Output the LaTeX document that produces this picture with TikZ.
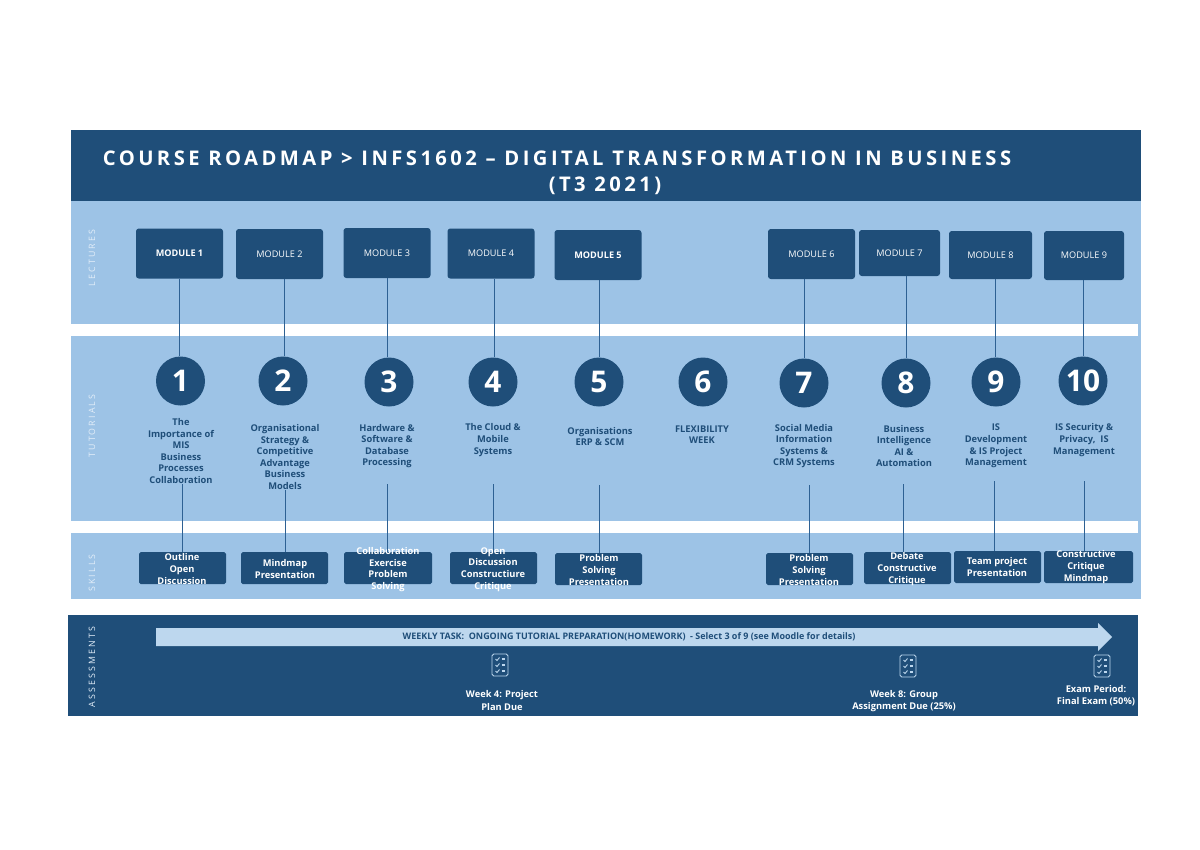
\documentclass[tikz,border=0pt]{standalone}
\usepackage{fontspec}
\setmainfont{Open Sans}
\newfontfamily\spacedfont[LetterSpace=17]{Open Sans}
\newfontfamily\sidefont[LetterSpace=25]{Open Sans}
\definecolor{darkblue}{HTML}{1F4E79}
\definecolor{midblue}{HTML}{9DC3E6}
\definecolor{paleblue}{HTML}{BDD7EE}
\definecolor{sideblue}{HTML}{E3EEF9}
\definecolor{linkblue}{HTML}{2E6193}
\tikzset{
  modulebox/.style={rectangle, rounded corners=1.6pt, fill=darkblue, text=white, inner sep=0pt, minimum width=87*0.02cm, minimum height=50*0.02cm, font=\fontsize{5.2}{6}\selectfont},
  skillbox/.style={rectangle, rounded corners=1pt, fill=darkblue, inner sep=0pt, minimum width=87*0.02cm, minimum height=32*0.02cm},
  weekcircle/.style={circle, fill=darkblue, text=white, inner sep=0pt, minimum size=49*0.02cm, font=\fontsize{17}{17}\selectfont\bfseries},
  topictext/.style={text=darkblue, align=center, inner sep=0pt, font=\fontsize{5.3}{6.6}\selectfont\bfseries},
  skilltext/.style={text=white, align=center, inner sep=0pt, font=\fontsize{5.3}{6.6}\selectfont\bfseries},
  sidetext/.style={text=sideblue, rotate=90, inner sep=0pt, font=\fontsize{5}{6}\sidefont},
  titletext/.style={text=white, inner sep=0pt, font=\fontsize{11.5}{13}\spacedfont\bfseries},
  link/.style={draw=linkblue, line width=0.55pt},
  checkicon/.pic={
    \draw[paleblue, line width=0.5pt, rounded corners=1pt] (-8,-11) rectangle (8,11);
    \draw[paleblue, line width=0.5pt] (-4.5,-6) -- (-3,-4.5) -- (-0.5,-7.5) (-4.5,0) -- (-3,1.5) -- (-0.5,-1.5) (-4.5,6) -- (-3,7.5) -- (-0.5,4.5);
    \draw[paleblue, line width=0.6pt] (1.5,-6) -- (5,-6) (1.5,0) -- (5,0) (1.5,6) -- (5,6);
  }
}
\begin{document}
\begin{tikzpicture}[x=0.02cm, y=-0.02cm]
   \useasboundingbox (0,0) rectangle (1200,849);
   % bands
   \fill[midblue] (71,201) rectangle (1141,599);
   \fill[darkblue] (71,130) rectangle (1141,201);
   \fill[white] (71,324) rectangle (1138,336);
   \fill[white] (71,521) rectangle (1138,533);
   \fill[darkblue] (68,615) rectangle (1138,716);
   \node[titletext] (title1) at (557,158) {COURSE ROADMAP > INFS1602 – DIGITAL TRANSFORMATION IN BUSINESS};
   \node[titletext] (title2) at (605,186) {(T3 2021)};
   \node[sidetext] (lectures) at (92,258) {LECTURES};
   \node[sidetext] (tutorials) at (92,426) {TUTORIALS};
   \node[sidetext] (skills) at (92,573) {SKILLS};
   \node[sidetext] (assess) at (92,667) {ASSESSMENTS};
   % modules
   \node[modulebox, font=\fontsize{5.2}{6}\selectfont\bfseries] (m1) at (179.5,253.5) {MODULE 1};
   \node[modulebox] (m2) at (279.5,254) {MODULE 2};
   \node[modulebox] (m3) at (387,253) {MODULE 3};
   \node[modulebox] (m4) at (491,253.5) {MODULE 4};
   \node[modulebox, font=\fontsize{5.2}{6}\selectfont\bfseries] (m5) at (598,255) {MODULE 5};
   \node[modulebox] (m6) at (811.5,254) {MODULE 6};
   \node[modulebox, minimum width=81*0.02cm, minimum height=46*0.02cm] (m7) at (899.5,253) {MODULE 7};
   \node[modulebox, minimum width=83*0.02cm, minimum height=48*0.02cm] (m8) at (990.5,255) {MODULE 8};
   \node[modulebox, minimum width=80*0.02cm, minimum height=49*0.02cm] (m9) at (1084,255.5) {MODULE 9};
   % weeks
   \node[weekcircle] (c1) at (180.5,381) {1};
   \node[weekcircle] (c2) at (283,381) {2};
   \node[weekcircle] (c3) at (389,382) {3};
   \node[weekcircle] (c4) at (493,382) {4};
   \node[weekcircle] (c5) at (599,382) {5};
   \node[weekcircle] (c6) at (703,382) {6};
   \node[weekcircle] (c7) at (804,383) {7};
   \node[weekcircle] (c8) at (906,383) {8};
   \node[weekcircle] (c9) at (996,382) {9};
   \node[weekcircle] (c10) at (1083,381) {10};
   % topics
   \node[topictext] (t1) at (181,451) {The\\Importance of\\MIS\\Business\\Processes\\Collaboration};
   \node[topictext] (t2) at (285,457) {Organisational\\Strategy \&\\Competitive\\Advantage\\Business\\Models};
   \node[topictext] (t3) at (387,446) {Hardware \&\\Software \&\\Database\\Processing};
   \node[topictext] (t4) at (493,440) {The Cloud \&\\Mobile\\Systems};
   \node[topictext] (t5) at (600,436.5) {Organisations\\ERP \& SCM};
   \node[topictext] (t6) at (702,434.5) {FLEXIBILITY\\WEEK};
   \node[topictext] (t7) at (804,446) {Social Media\\Information\\Systems \&\\CRM Systems};
   \node[topictext] (t8) at (904,446) {Business\\Intelligence\\AI \&\\Automation};
   \node[topictext] (t9) at (996,446) {IS\\Development\\\& IS Project\\Management};
   \node[topictext] (t10) at (1084,440) {IS Security \&\\Privacy,\ \ IS\\Management};
   % skills
   \node[skillbox] (s1) at (182.5,568) {};
   \node[skillbox] (s2) at (284.5,568) {};
   \node[skillbox, minimum width=88*0.02cm] (s3) at (388,568) {};
   \node[skillbox] (s4) at (493.5,568) {};
   \node[skillbox] (s5) at (598.5,569) {};
   \node[skillbox] (s7) at (809.5,569) {};
   \node[skillbox] (s8) at (907.5,568) {};
   \node[skillbox] (s9) at (997.5,567) {};
   \node[skillbox, minimum width=89*0.02cm] (s10) at (1088.5,567) {};
   \node[skilltext] (st1) at (182,569) {Outline\\Open\\Discussion};
   \node[skilltext] (st2) at (285,569) {Mindmap\\Presentation};
   \node[skilltext] (st3) at (388,569.5) {Collaboration\\Exercise\\Problem\\Solving};
   \node[skilltext] (st4) at (493,569.5) {Open\\Discussion\\Constructiure\\Critique};
   \node[skilltext] (st5) at (599,570) {Problem\\Solving\\Presentation};
   \node[skilltext] (st7) at (809,570) {Problem\\Solving\\Presentation};
   \node[skilltext] (st8) at (907,569) {Debate\\Constructive\\Critique};
   \node[skilltext] (st9) at (997,567) {Team project\\Presentation};
   \node[skilltext] (st10) at (1086,567) {Constructive\\Critique\\Mindmap};
   % links
   \coordinate (up1) at (179,0);
   \coordinate (up2) at (284,0);
   \coordinate (up3) at (387,0);
   \coordinate (up4) at (494,0);
   \coordinate (up5) at (599,0);
   \coordinate (up7) at (804,0);
   \coordinate (up8) at (906,0);
   \coordinate (up9) at (995,0);
   \coordinate (up10) at (1083,0);
   \draw[link] (m1.south -| up1) -- (c1.north -| up1);
   \draw[link] (m2.south -| up2) -- (c2.north -| up2);
   \draw[link] (m3.south -| up3) -- (c3.north -| up3);
   \draw[link] (m4.south -| up4) -- (c4.north -| up4);
   \draw[link] (m5.south -| up5) -- (c5.north -| up5);
   \draw[link] (m6.south -| up7) -- (c7.north -| up7);
   \draw[link] (m7.south -| up8) -- (c8.north -| up8);
   \draw[link] (m8.south -| up9) -- (c9.north -| up9);
   \draw[link] (m9.south -| up10) -- (c10.north -| up10);
   \coordinate (low1) at (182,484);
   \coordinate (low2) at (285,490);
   \coordinate (low3) at (387,484);
   \coordinate (low4) at (493,484);
   \coordinate (low5) at (599,485);
   \coordinate (low7) at (809,485);
   \coordinate (low8) at (903,484);
   \coordinate (low9) at (994,481);
   \coordinate (low10) at (1084,481);
   \draw[link] (low1) -- (low1 |- s1.north);
   \draw[link] (low2) -- (low2 |- s2.north);
   \draw[link] (low3) -- (low3 |- s3.north);
   \draw[link] (low4) -- (low4 |- s4.north);
   \draw[link] (low5) -- (low5 |- s5.north);
   \draw[link] (low7) -- (low7 |- s7.north);
   \draw[link] (low8) -- (low8 |- s8.north);
   \draw[link] (low9) -- (low9 |- s9.north);
   \draw[link] (low10) -- (low10 |- s10.north);
   % assessments
   \fill[paleblue] (156,628) -- (1098,628) -- (1098,623) -- (1112,637) -- (1098,651) -- (1098,646) -- (156,646) -- cycle;
   \node[text=darkblue, inner sep=0pt, font=\fontsize{5.1}{6}\selectfont\bfseries] (tasktext) at (629,637) {WEEKLY TASK:\ \ ONGOING TUTORIAL PREPARATION(HOMEWORK)\ \ - Select 3 of 9 (see Moodle for details)};
   \pic at (500,665) {checkicon};
   \pic at (908,666) {checkicon};
   \pic at (1102,666) {checkicon};
   \node[skilltext, font=\fontsize{5.3}{7}\selectfont\bfseries] (due1) at (502,700.5) {Week 4: Project\\Plan Due};
   \node[skilltext, font=\fontsize{5.3}{7}\selectfont\bfseries] (due2) at (904,701) {Week 8: Group\\Assignment Due (25\%)};
   \node[skilltext, font=\fontsize{5.3}{7}\selectfont\bfseries] (due3) at (1096,696) {Exam Period:\\Final Exam (50\%)};
\end{tikzpicture}
\end{document}
